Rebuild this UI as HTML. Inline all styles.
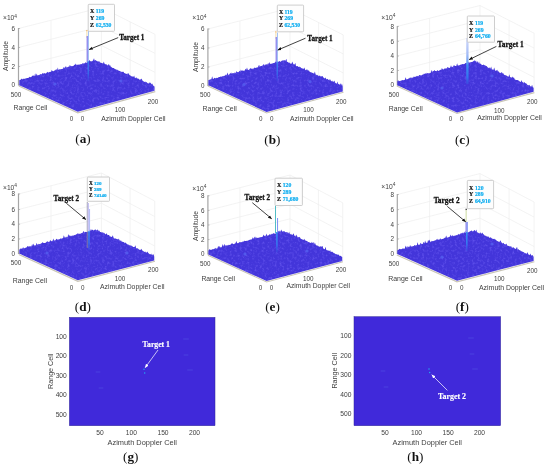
<!DOCTYPE html>
<html><head><meta charset="utf-8"><title>Figure</title>
<style>
html,body{margin:0;padding:0;background:#fff;}
body{width:550px;height:469px;overflow:hidden;}
svg{display:block;}
.t{font-family:"Liberation Sans",Arial,sans-serif;fill:#404040;}
.s{font-family:"Liberation Serif","Times New Roman",serif;}
.b{font-weight:bold;}
</style></head><body>
<svg width="550" height="469" viewBox="0 0 550 469">
<defs>
<marker id="ak" markerWidth="5" markerHeight="4" refX="3.6" refY="2" orient="auto" markerUnits="userSpaceOnUse"><path d="M0,0.4 L4,2 L0,3.6 Z" fill="#111"/></marker>
<marker id="aw" markerWidth="5" markerHeight="4" refX="3.6" refY="2" orient="auto" markerUnits="userSpaceOnUse"><path d="M0,0.4 L4,2 L0,3.6 Z" fill="#fff"/></marker>
<filter id="nz" x="0" y="0" width="100%" height="100%" color-interpolation-filters="sRGB"><feTurbulence type="fractalNoise" baseFrequency="0.4" numOctaves="2" seed="3" result="n"/><feColorMatrix in="n" type="matrix" values="0 0 0 0 0.42  0 0 0 0 0.36  0 0 0 0 0.95  1.7 0 0 0 -0.8" result="c"/><feComposite in="c" in2="SourceGraphic" operator="in" result="m"/><feMerge><feMergeNode in="SourceGraphic"/><feMergeNode in="m"/></feMerge></filter>
<linearGradient id="gc" x1="0" y1="0" x2="0" y2="1"><stop offset="0" stop-color="#cfd8fa"/><stop offset="0.35" stop-color="#a6bdf6"/><stop offset="0.52" stop-color="#6fa4f4"/><stop offset="0.6" stop-color="#3a8ef2"/><stop offset="0.85" stop-color="#3474ee"/><stop offset="1" stop-color="#3a55e4" stop-opacity="0.6"/></linearGradient>
<linearGradient id="gs" x1="0" y1="0" x2="0" y2="1"><stop offset="0" stop-color="#3590f4"/><stop offset="0.6" stop-color="#3478f0"/><stop offset="1" stop-color="#3c58e6" stop-opacity="0.4"/></linearGradient>
</defs>
<rect width="550" height="469" fill="#fff"/>

<path d="M18.5,28.5 L101.4,7.5 L155.0,34.3 M18.5,47.5 L101.4,26.5 L155.0,53.3 M18.5,66.5 L101.4,45.5 L155.0,72.3 M18.5,85.0 L101.4,64.0 L155.0,90.8 M101.4,64.0 V7.5 M155.0,90.8 V34.3 M51.0,76.8 V20.3 M130.2,78.4 V21.9" fill="none" stroke="#eeeeee" stroke-width="0.7"/>
<path d="M18.5,28.0 V85.5" stroke="#a6a6a6" stroke-width="1.2" fill="none"/>
<path d="M18.5,28.5 h1.6 M18.5,47.5 h1.6 M18.5,66.5 h1.6 M18.5,85.0 h1.6" stroke="#9a9a9a" stroke-width="0.6" fill="none"/>
<path d="M18.8,86.0 L77.8,112.8 L155.3,91.6" stroke="#c9c5b6" stroke-width="1.1" fill="none"/>
<polygon points="19.3,85.2 19.3,80.2 20.1,79.8 20.8,79.8 21.6,78.4 22.3,79.4 23.1,78.5 23.8,78.9 24.6,78.8 25.3,78.4 26.1,78.4 26.8,78.1 27.6,78.0 28.4,77.9 29.1,77.2 29.9,76.8 30.6,77.2 31.4,77.0 32.1,75.8 32.9,75.8 33.6,75.6 34.4,76.2 35.1,73.3 35.9,75.9 36.7,73.6 37.4,75.5 38.2,75.3 38.9,75.1 39.7,74.7 40.4,74.1 41.2,74.5 41.9,74.0 42.7,73.0 43.4,73.8 44.2,73.0 45.0,73.6 45.7,73.4 46.5,73.1 47.2,71.7 48.0,72.6 48.7,72.4 49.5,72.1 50.2,71.7 51.0,71.9 51.7,70.0 52.5,71.1 53.3,71.3 54.0,70.9 54.8,70.3 55.5,70.1 56.3,69.1 57.0,70.4 57.8,67.4 58.5,70.0 59.3,69.4 60.0,69.1 60.8,69.4 61.5,69.1 62.3,69.1 63.1,68.5 63.8,67.0 64.6,68.2 65.3,66.1 66.1,68.0 66.8,66.6 67.6,67.4 68.3,66.6 69.1,67.1 69.8,65.1 70.6,66.0 71.4,66.2 72.1,66.1 72.9,66.3 73.6,65.7 74.4,64.8 75.1,64.7 75.9,63.6 76.6,65.3 77.4,64.8 78.1,64.6 78.9,64.8 79.7,64.4 80.4,64.3 81.2,64.2 81.9,64.0 82.7,63.2 83.4,63.6 84.2,63.4 84.9,62.9 85.7,62.3 86.4,62.8 87.2,62.5 88.0,61.6 88.7,61.5 89.5,60.1 90.2,61.1 91.0,61.5 91.7,61.3 92.5,61.0 93.2,60.3 94.0,58.2 94.7,60.7 95.5,59.9 96.3,60.8 97.0,61.1 97.8,61.4 98.5,61.6 99.3,61.2 100.0,62.4 100.8,62.8 101.6,63.0 102.3,63.2 103.1,63.5 103.8,61.5 104.6,64.0 105.3,64.1 106.1,64.8 106.8,64.2 107.6,65.8 108.4,63.8 109.1,65.9 109.9,64.6 110.6,66.5 111.4,67.1 112.1,67.7 112.9,68.1 113.7,68.1 114.4,68.8 115.2,69.1 115.9,69.4 116.7,69.8 117.4,69.8 118.2,70.5 118.9,70.8 119.7,71.1 120.5,71.4 121.2,71.7 122.0,72.1 122.7,71.7 123.5,71.8 124.2,73.1 125.0,73.3 125.8,73.7 126.5,73.8 127.3,74.4 128.0,72.7 128.8,74.1 129.5,74.9 130.3,75.6 131.1,76.1 131.8,76.4 132.6,76.5 133.3,77.0 134.1,75.4 134.8,77.7 135.6,78.1 136.3,77.5 137.1,78.0 137.9,79.1 138.6,78.6 139.4,79.8 140.1,79.4 140.9,79.4 141.6,78.6 142.4,80.6 143.2,81.3 143.9,81.6 144.7,82.0 145.4,81.8 146.2,82.0 146.9,82.5 147.7,83.2 148.4,83.7 149.2,82.2 150.0,83.4 150.7,82.6 151.5,84.4 152.2,83.5 153.0,85.2 153.7,86.0 154.5,86.4 154.5,90.8 77.8,111.8" fill="#4335DA" filter="url(#nz)"/>
<circle cx="55" cy="84" r="1.6" fill="#5560f0" opacity="0.8"/>
<circle cx="121" cy="81" r="1.6" fill="#5560f0" opacity="0.8"/>
<rect x="86.45" y="30.0" width="0.9" height="8.0" fill="#f3d9a2" opacity="1"/>
<rect x="86.45" y="30.0" width="0.9" height="1.2" fill="#f0a850" opacity="1"/>
<rect x="86.55" y="36.0" width="1.5" height="26.0" fill="#968eee" opacity="1"/>
<rect x="88.00" y="31.0" width="0.8" height="31.0" fill="#8cb4f2" opacity="1"/>
<rect x="87.65" y="61.0" width="1.1" height="20.0" fill="url(#gs)" opacity="1"/>
<text x="15.1" y="30.7" font-size="6.3" text-anchor="end" class="t">6</text>
<text x="15.1" y="49.7" font-size="6.3" text-anchor="end" class="t">4</text>
<text x="15.1" y="68.7" font-size="6.3" text-anchor="end" class="t">2</text>
<text x="15.1" y="87.2" font-size="6.3" text-anchor="end" class="t">0</text>
<text x="3.0" y="20.3" font-size="6.7" class="t">×10<tspan dy="-2.8" font-size="4.8">4</tspan></text>
<text transform="translate(8.3,56.0) rotate(-90)" font-size="6.8" text-anchor="middle" class="t">Amplitude</text>
<text x="16.0" y="96.7" font-size="6.3" text-anchor="middle" class="t">500</text>
<text x="71.5" y="120.7" font-size="6.3" text-anchor="middle" class="t">0</text>
<text x="82.6" y="120.7" font-size="6.3" text-anchor="middle" class="t">0</text>
<text x="120.0" y="112.2" font-size="6.3" text-anchor="middle" class="t">100</text>
<text x="153.0" y="103.5" font-size="6.3" text-anchor="middle" class="t">200</text>
<text x="30.4" y="110.3" font-size="6.8" text-anchor="middle" class="t" textLength="33.7" lengthAdjust="spacingAndGlyphs">Range Cell</text>
<text x="133.4" y="120.8" font-size="6.8" text-anchor="middle" class="t" textLength="64.2" lengthAdjust="spacingAndGlyphs">Azimuth Doppler Cell</text>
<text x="83.0" y="143.2" font-size="13.2" text-anchor="middle" class="s" fill="#111">(<tspan class="b">a</tspan>)</text>
<rect x="88.2" y="4.3" width="26.3" height="27.0" rx="0.8" fill="#fdfdfd" stroke="#c2c2c2" stroke-width="0.8"/>
<text x="90.0" y="13.3" font-size="5.9" class="s b" fill="#111" stroke="#111" stroke-width="0.22">X <tspan fill="#10aef0" stroke="#10aef0" font-size="5.7" x="95.8">119</tspan></text>
<text x="90.0" y="19.8" font-size="5.9" class="s b" fill="#111" stroke="#111" stroke-width="0.22">Y <tspan fill="#10aef0" stroke="#10aef0" font-size="5.7" x="95.8">269</tspan></text>
<text x="90.0" y="26.5" font-size="5.9" class="s b" fill="#111" stroke="#111" stroke-width="0.22">Z <tspan fill="#10aef0" stroke="#10aef0" font-size="5.7" x="95.8">62,530</tspan></text>
<line x1="118.2" y1="37.6" x2="89.2" y2="49.5" stroke="#111" stroke-width="0.8" marker-end="url(#ak)"/>
<text x="131.8" y="40.1" font-size="7.2" text-anchor="middle" class="s b" fill="#111" stroke="#111" stroke-width="0.28" textLength="25.3" lengthAdjust="spacingAndGlyphs">Target 1</text>
<path d="M207.9,29.0 L290.0,8.2 L343.2,34.9 M207.9,48.0 L290.0,27.2 L343.2,53.9 M207.9,67.0 L290.0,46.2 L343.2,72.9 M207.9,85.5 L290.0,64.7 L343.2,91.4 M290.0,64.7 V8.2 M343.2,91.4 V34.9 M239.9,77.4 V20.9 M318.6,79.1 V22.6" fill="none" stroke="#eeeeee" stroke-width="0.7"/>
<path d="M207.9,28.5 V86.0" stroke="#a6a6a6" stroke-width="1.2" fill="none"/>
<path d="M207.9,29.0 h1.6 M207.9,48.0 h1.6 M207.9,67.0 h1.6 M207.9,85.5 h1.6" stroke="#9a9a9a" stroke-width="0.6" fill="none"/>
<path d="M207.9,86.0 L266.6,113.0 L343.5,92.2" stroke="#c9c5b6" stroke-width="1.1" fill="none"/>
<polygon points="208.4,85.2 208.4,80.2 209.2,79.8 209.9,79.8 210.7,79.3 211.4,79.3 212.2,76.3 212.9,78.9 213.7,78.8 214.4,77.8 215.2,78.3 216.0,78.2 216.7,77.8 217.5,77.9 218.2,77.5 219.0,77.1 219.7,77.1 220.5,76.5 221.3,76.9 222.0,76.0 222.8,76.5 223.5,76.0 224.3,75.7 225.0,75.8 225.8,74.6 226.5,75.5 227.3,72.6 228.1,74.4 228.8,74.9 229.6,73.9 230.3,72.8 231.1,74.0 231.8,72.5 232.6,73.4 233.3,73.1 234.1,73.5 234.9,72.3 235.6,73.2 236.4,71.0 237.1,72.3 237.9,71.9 238.6,72.2 239.4,70.8 240.2,71.8 240.9,69.4 241.7,71.1 242.4,70.6 243.2,70.6 243.9,71.0 244.7,70.4 245.4,68.8 246.2,70.0 247.0,67.5 247.7,69.7 248.5,69.9 249.2,69.7 250.0,68.4 250.7,68.3 251.5,68.7 252.2,68.7 253.0,68.7 253.8,68.5 254.5,67.6 255.3,68.1 256.0,67.8 256.8,67.5 257.5,67.5 258.3,66.4 259.1,64.8 259.8,66.9 260.6,66.0 261.3,66.0 262.1,65.8 262.8,65.5 263.6,63.9 264.3,65.7 265.1,64.0 265.9,65.3 266.6,64.0 267.4,64.8 268.1,62.7 268.9,64.6 269.6,62.0 270.4,64.1 271.1,64.0 271.9,63.4 272.7,63.5 273.4,63.1 274.2,63.0 274.9,62.6 275.7,61.5 276.4,62.3 277.2,62.4 278.0,62.0 278.7,61.5 279.5,60.9 280.2,61.7 281.0,61.4 281.7,60.7 282.5,60.6 283.2,60.7 284.0,60.1 284.8,60.5 285.5,60.8 286.3,58.7 287.0,61.7 287.8,62.1 288.5,62.7 289.3,62.4 290.0,63.3 290.8,63.7 291.5,63.8 292.3,61.4 293.0,63.6 293.8,64.6 294.5,64.4 295.3,63.1 296.0,66.0 296.8,66.3 297.5,66.1 298.3,66.8 299.1,67.2 299.8,66.6 300.6,67.6 301.3,68.1 302.1,68.6 302.8,68.6 303.6,69.0 304.3,67.4 305.1,69.8 305.8,70.2 306.6,69.6 307.3,69.6 308.1,71.1 308.8,70.1 309.6,71.7 310.3,71.9 311.1,72.6 311.8,72.6 312.6,73.1 313.4,73.3 314.1,73.7 314.9,71.6 315.6,74.5 316.4,74.9 317.1,74.7 317.9,75.4 318.6,75.9 319.4,75.8 320.1,75.7 320.9,76.8 321.6,76.3 322.4,75.9 323.1,77.1 323.9,78.0 324.6,78.5 325.4,77.6 326.1,78.8 326.9,79.4 327.6,78.8 328.4,79.7 329.2,80.4 329.9,79.1 330.7,80.5 331.4,81.0 332.2,81.8 332.9,80.5 333.7,82.3 334.4,80.5 335.2,82.8 335.9,83.3 336.7,83.8 337.4,81.5 338.2,84.3 338.9,83.7 339.7,85.1 340.4,83.2 341.2,85.5 341.9,83.6 342.7,86.4 342.7,91.4 266.6,112.0" fill="#4335DA" filter="url(#nz)"/>
<circle cx="244" cy="84.5" r="1.6" fill="#5560f0" opacity="0.8"/>
<circle cx="310" cy="81.5" r="1.6" fill="#5560f0" opacity="0.8"/>
<rect x="275.45" y="31.3" width="0.9" height="7.7" fill="#f3d9a2" opacity="1"/>
<rect x="275.45" y="31.3" width="0.9" height="1.2" fill="#f0a850" opacity="1"/>
<rect x="275.55" y="37.0" width="1.5" height="25.0" fill="#968eee" opacity="1"/>
<rect x="277.00" y="32.5" width="0.8" height="29.5" fill="#8cb4f2" opacity="1"/>
<rect x="276.65" y="61.5" width="1.1" height="19.5" fill="url(#gs)" opacity="1"/>
<text x="204.5" y="31.2" font-size="6.3" text-anchor="end" class="t">6</text>
<text x="204.5" y="50.2" font-size="6.3" text-anchor="end" class="t">4</text>
<text x="204.5" y="69.2" font-size="6.3" text-anchor="end" class="t">2</text>
<text x="204.5" y="87.7" font-size="6.3" text-anchor="end" class="t">0</text>
<text x="192.3" y="20.3" font-size="6.7" class="t">×10<tspan dy="-2.8" font-size="4.8">4</tspan></text>
<text transform="translate(197.8,57.0) rotate(-90)" font-size="6.8" text-anchor="middle" class="t">Amplitude</text>
<text x="205.2" y="96.9" font-size="6.3" text-anchor="middle" class="t">500</text>
<text x="260.8" y="120.9" font-size="6.3" text-anchor="middle" class="t">0</text>
<text x="271.7" y="120.9" font-size="6.3" text-anchor="middle" class="t">0</text>
<text x="308.5" y="112.2" font-size="6.3" text-anchor="middle" class="t">100</text>
<text x="341.2" y="103.5" font-size="6.3" text-anchor="middle" class="t">200</text>
<text x="219.7" y="110.5" font-size="6.8" text-anchor="middle" class="t" textLength="34.2" lengthAdjust="spacingAndGlyphs">Range Cell</text>
<text x="321.8" y="120.8" font-size="6.8" text-anchor="middle" class="t" textLength="63.6" lengthAdjust="spacingAndGlyphs">Azimuth Doppler Cell</text>
<text x="272.4" y="143.6" font-size="13.2" text-anchor="middle" class="s" fill="#111">(<tspan class="b">b</tspan>)</text>
<rect x="277.3" y="5.1" width="26.3" height="26.7" rx="0.8" fill="#fdfdfd" stroke="#c2c2c2" stroke-width="0.8"/>
<text x="279.0" y="13.8" font-size="5.9" class="s b" fill="#111" stroke="#111" stroke-width="0.22">X <tspan fill="#10aef0" stroke="#10aef0" font-size="5.7" x="284.5">119</tspan></text>
<text x="279.0" y="20.4" font-size="5.9" class="s b" fill="#111" stroke="#111" stroke-width="0.22">Y <tspan fill="#10aef0" stroke="#10aef0" font-size="5.7" x="284.5">269</tspan></text>
<text x="279.0" y="26.9" font-size="5.9" class="s b" fill="#111" stroke="#111" stroke-width="0.22">Z <tspan fill="#10aef0" stroke="#10aef0" font-size="5.7" x="284.5">62,530</tspan></text>
<line x1="305.5" y1="38.2" x2="277.8" y2="50.0" stroke="#111" stroke-width="0.8" marker-end="url(#ak)"/>
<text x="320.0" y="40.7" font-size="7.2" text-anchor="middle" class="s b" fill="#111" stroke="#111" stroke-width="0.28" textLength="25.4" lengthAdjust="spacingAndGlyphs">Target 1</text>
<path d="M397.3,26.4 L480.0,5.5 L534.1,33.2 M397.3,41.3 L480.0,20.4 L534.1,48.1 M397.3,56.0 L480.0,35.1 L534.1,62.8 M397.3,70.5 L480.0,49.6 L534.1,77.3 M397.3,85.0 L480.0,64.1 L534.1,91.8 M480.0,64.1 V5.5 M534.1,91.8 V33.2 M429.6,76.8 V18.2 M509.1,79.0 V20.4" fill="none" stroke="#eeeeee" stroke-width="0.7"/>
<path d="M397.3,25.9 V85.5" stroke="#a6a6a6" stroke-width="1.2" fill="none"/>
<path d="M397.3,26.4 h1.6 M397.3,41.3 h1.6 M397.3,56.0 h1.6 M397.3,70.5 h1.6 M397.3,85.0 h1.6" stroke="#9a9a9a" stroke-width="0.6" fill="none"/>
<path d="M396.8,86.0 L457.0,113.4 L534.4,92.6" stroke="#c9c5b6" stroke-width="1.1" fill="none"/>
<polygon points="397.3,85.2 397.3,81.8 398.1,79.9 398.8,81.3 399.6,81.0 400.3,80.9 401.1,80.6 401.8,80.5 402.6,79.9 403.4,80.2 404.1,79.9 404.9,79.7 405.6,77.2 406.4,79.4 407.1,79.2 407.9,78.9 408.6,78.6 409.4,78.3 410.2,77.2 410.9,78.2 411.7,77.4 412.4,77.8 413.2,77.6 413.9,76.6 414.7,77.1 415.5,76.8 416.2,76.4 417.0,75.8 417.7,76.3 418.5,76.2 419.2,75.0 420.0,75.1 420.7,75.5 421.5,75.4 422.3,74.5 423.0,74.9 423.8,73.8 424.5,74.0 425.3,73.1 426.0,74.2 426.8,72.8 427.6,73.3 428.3,73.3 429.1,73.4 429.8,72.9 430.6,73.0 431.3,69.8 432.1,72.6 432.9,70.8 433.6,71.3 434.4,70.0 435.1,71.1 435.9,71.1 436.6,71.2 437.4,70.1 438.1,70.9 438.9,70.7 439.7,70.3 440.4,69.7 441.2,70.0 441.9,68.1 442.7,69.3 443.4,69.5 444.2,69.1 445.0,68.0 445.7,68.8 446.5,68.6 447.2,67.5 448.0,67.1 448.7,68.0 449.5,67.9 450.3,67.2 451.0,65.2 451.8,67.2 452.5,67.1 453.3,66.3 454.0,64.9 454.8,66.1 455.5,65.9 456.3,66.0 457.1,63.3 457.8,65.6 458.6,65.5 459.3,65.3 460.1,65.1 460.8,64.6 461.6,64.4 462.4,63.9 463.1,64.3 463.9,64.1 464.6,63.9 465.4,63.1 466.1,63.1 466.9,63.0 467.6,60.6 468.4,62.4 469.2,62.6 469.9,62.4 470.7,62.2 471.4,62.1 472.2,61.9 472.9,61.6 473.7,60.9 474.5,60.2 475.2,61.5 476.0,60.6 476.7,62.8 477.5,61.1 478.2,63.5 479.0,61.4 479.8,64.1 480.5,63.5 481.3,64.4 482.0,65.1 482.8,65.0 483.6,64.5 484.3,65.3 485.1,65.3 485.8,66.1 486.6,66.1 487.3,67.1 488.1,67.7 488.9,67.9 489.6,67.6 490.4,68.8 491.1,66.5 491.9,69.4 492.7,69.5 493.4,70.1 494.2,67.6 494.9,70.1 495.7,71.0 496.4,70.6 497.2,69.7 498.0,71.7 498.7,71.2 499.5,72.7 500.2,72.7 501.0,73.3 501.8,71.7 502.5,73.5 503.3,73.3 504.0,74.7 504.8,75.0 505.5,75.3 506.3,75.4 507.1,75.9 507.8,76.4 508.6,76.8 509.3,74.2 510.1,77.2 510.9,77.2 511.6,77.7 512.4,76.5 513.1,78.0 513.9,77.2 514.6,79.3 515.4,79.7 516.2,80.0 516.9,80.1 517.7,80.1 518.4,80.4 519.2,81.0 520.0,81.7 520.7,82.1 521.5,79.9 522.2,82.6 523.0,81.6 523.7,83.4 524.5,82.1 525.3,83.2 526.0,83.2 526.8,84.1 527.5,85.0 528.3,85.4 529.1,84.7 529.8,85.6 530.6,86.4 531.3,86.7 532.1,84.7 532.8,87.3 533.6,87.7 533.6,91.8 457.0,112.4" fill="#4335DA" filter="url(#nz)"/>
<circle cx="442" cy="88" r="1.6" fill="#5560f0" opacity="0.8"/>
<circle cx="492" cy="76" r="1.6" fill="#5560f0" opacity="0.8"/>
<rect x="466.25" y="38.0" width="2.3" height="46.0" fill="url(#gc)" opacity="1"/>
<text x="393.9" y="28.6" font-size="6.3" text-anchor="end" class="t">8</text>
<text x="393.9" y="43.5" font-size="6.3" text-anchor="end" class="t">6</text>
<text x="393.9" y="58.2" font-size="6.3" text-anchor="end" class="t">4</text>
<text x="393.9" y="72.7" font-size="6.3" text-anchor="end" class="t">2</text>
<text x="393.9" y="87.2" font-size="6.3" text-anchor="end" class="t">0</text>
<text x="381.3" y="20.0" font-size="6.7" class="t">×10<tspan dy="-2.8" font-size="4.8">4</tspan></text>
<text x="394.0" y="96.7" font-size="6.3" text-anchor="middle" class="t">500</text>
<text x="450.5" y="121.2" font-size="6.3" text-anchor="middle" class="t">0</text>
<text x="461.8" y="121.2" font-size="6.3" text-anchor="middle" class="t">0</text>
<text x="499.3" y="112.6" font-size="6.3" text-anchor="middle" class="t">100</text>
<text x="532.3" y="103.5" font-size="6.3" text-anchor="middle" class="t">200</text>
<text x="405.7" y="111.3" font-size="6.8" text-anchor="middle" class="t" textLength="34.0" lengthAdjust="spacingAndGlyphs">Range Cell</text>
<text x="509.5" y="120.1" font-size="6.8" text-anchor="middle" class="t" textLength="64.5" lengthAdjust="spacingAndGlyphs">Azimuth Doppler Cell</text>
<text x="462.3" y="143.6" font-size="13.2" text-anchor="middle" class="s" fill="#111">(<tspan class="b">c</tspan>)</text>
<rect x="467.3" y="16.0" width="27.2" height="26.2" rx="0.8" fill="#fdfdfd" stroke="#c2c2c2" stroke-width="0.8"/>
<text x="469.0" y="24.7" font-size="5.9" class="s b" fill="#111" stroke="#111" stroke-width="0.22">X <tspan fill="#10aef0" stroke="#10aef0" font-size="5.7" x="475.0">119</tspan></text>
<text x="469.0" y="31.5" font-size="5.9" class="s b" fill="#111" stroke="#111" stroke-width="0.22">Y <tspan fill="#10aef0" stroke="#10aef0" font-size="5.7" x="475.0">269</tspan></text>
<text x="469.0" y="38.4" font-size="5.9" class="s b" fill="#111" stroke="#111" stroke-width="0.22">Z <tspan fill="#10aef0" stroke="#10aef0" font-size="5.7" x="475.0">64,760</tspan></text>
<line x1="496.4" y1="46.4" x2="469.2" y2="59.6" stroke="#111" stroke-width="0.8" marker-end="url(#ak)"/>
<text x="510.6" y="47.0" font-size="7.2" text-anchor="middle" class="s b" fill="#111" stroke="#111" stroke-width="0.28" textLength="26.0" lengthAdjust="spacingAndGlyphs">Target 1</text>
<path d="M18.5,194.0 L101.4,173.0 L154.7,201.0 M18.5,209.5 L101.4,188.5 L154.7,216.5 M18.5,224.2 L101.4,203.2 L154.7,231.2 M18.5,239.0 L101.4,218.0 L154.7,246.0 M18.5,253.5 L101.4,232.5 L154.7,260.5 M101.4,232.5 V173.0 M154.7,260.5 V201.0 M51.0,245.3 V185.8 M130.1,247.6 V188.1" fill="none" stroke="#eeeeee" stroke-width="0.7"/>
<path d="M18.5,193.5 V254.0" stroke="#a6a6a6" stroke-width="1.2" fill="none"/>
<path d="M18.5,194.0 h1.6 M18.5,209.5 h1.6 M18.5,224.2 h1.6 M18.5,239.0 h1.6 M18.5,253.5 h1.6" stroke="#9a9a9a" stroke-width="0.6" fill="none"/>
<path d="M18.8,254.4 L77.8,281.3 L155.0,261.3" stroke="#c9c5b6" stroke-width="1.1" fill="none"/>
<polygon points="19.3,253.6 19.3,249.6 20.1,249.3 20.8,248.3 21.6,248.8 22.3,248.8 23.1,247.3 23.8,248.2 24.6,248.2 25.3,247.7 26.1,247.8 26.8,247.0 27.6,246.1 28.4,246.7 29.1,246.0 29.9,246.8 30.6,246.3 31.4,246.4 32.1,244.0 32.9,246.1 33.6,243.6 34.4,245.7 35.1,245.4 35.9,245.3 36.7,242.8 37.4,244.7 38.2,244.4 38.9,243.8 39.7,244.2 40.4,244.0 41.2,243.2 41.9,243.2 42.7,242.0 43.4,243.0 44.2,242.9 45.0,242.9 45.7,242.8 46.5,241.9 47.2,241.2 48.0,241.7 48.7,242.0 49.5,241.7 50.2,239.9 51.0,241.1 51.7,241.2 52.5,240.9 53.3,238.6 54.0,240.6 54.8,240.4 55.5,240.2 56.3,238.7 57.0,239.2 57.8,239.7 58.5,239.5 59.3,239.2 60.0,239.0 60.8,238.2 61.5,238.7 62.3,238.3 63.1,238.3 63.8,235.3 64.6,237.4 65.3,237.7 66.1,236.6 66.8,237.4 67.6,237.1 68.3,234.1 69.1,236.2 69.8,235.1 70.6,236.2 71.4,236.1 72.1,235.6 72.9,235.8 73.6,235.6 74.4,235.1 75.1,235.2 75.9,234.6 76.6,234.2 77.4,233.3 78.1,234.2 78.9,233.2 79.7,233.9 80.4,233.8 81.2,233.3 81.9,233.1 82.7,232.8 83.4,230.7 84.2,232.7 84.9,231.8 85.7,232.0 86.4,231.9 87.2,232.1 88.0,230.5 88.7,231.0 89.5,229.8 90.2,230.9 91.0,229.1 91.7,230.5 92.5,229.6 93.2,230.4 94.0,230.2 94.7,229.8 95.5,229.4 96.3,230.3 97.0,230.5 97.8,229.3 98.5,230.9 99.3,230.6 100.0,232.0 100.8,231.9 101.5,232.5 102.3,232.0 103.0,233.2 103.8,232.5 104.5,233.2 105.3,234.3 106.0,234.3 106.8,233.3 107.5,235.3 108.3,235.1 109.0,235.1 109.8,236.4 110.6,236.5 111.3,237.1 112.1,236.8 112.8,235.2 113.6,237.9 114.3,238.4 115.1,238.5 115.8,238.4 116.6,239.0 117.3,239.1 118.1,239.8 118.8,238.5 119.6,240.6 120.3,240.7 121.1,240.6 121.8,241.7 122.6,241.7 123.3,242.1 124.1,242.3 124.8,243.2 125.6,242.5 126.4,243.6 127.1,244.2 127.9,244.4 128.6,244.8 129.4,245.2 130.1,245.4 130.9,245.5 131.6,245.8 132.4,246.3 133.1,246.9 133.9,247.1 134.6,247.1 135.4,245.3 136.1,248.0 136.9,248.5 137.6,248.3 138.4,248.9 139.1,249.6 139.9,249.9 140.7,249.7 141.4,248.8 142.2,250.6 142.9,250.8 143.7,251.4 144.4,251.9 145.2,251.4 145.9,252.4 146.7,252.6 147.4,251.4 148.2,253.0 148.9,253.5 149.7,254.3 150.4,253.9 151.2,255.0 151.9,253.4 152.7,255.6 153.4,254.0 154.2,256.4 154.2,260.5 77.8,280.3" fill="#4335DA" filter="url(#nz)"/>
<circle cx="47" cy="253" r="1.6" fill="#5560f0" opacity="0.8"/>
<circle cx="127" cy="253" r="1.6" fill="#5560f0" opacity="0.8"/>
<rect x="86.80" y="201.8" width="0.8" height="46.2" fill="#8a8a9a" opacity="1"/>
<rect x="87.70" y="203.0" width="1.2" height="29.0" fill="#c3bdf4" opacity="1"/>
<rect x="89.15" y="209.0" width="0.9" height="23.0" fill="#a9b6f4" opacity="1"/>
<rect x="88.30" y="231.0" width="1.4" height="19.5" fill="url(#gs)" opacity="1"/>
<text x="15.1" y="196.2" font-size="6.3" text-anchor="end" class="t">8</text>
<text x="15.1" y="211.7" font-size="6.3" text-anchor="end" class="t">6</text>
<text x="15.1" y="226.4" font-size="6.3" text-anchor="end" class="t">4</text>
<text x="15.1" y="241.2" font-size="6.3" text-anchor="end" class="t">2</text>
<text x="15.1" y="255.7" font-size="6.3" text-anchor="end" class="t">0</text>
<text x="3.0" y="189.5" font-size="6.7" class="t">×10<tspan dy="-2.8" font-size="4.8">4</tspan></text>
<text x="16.0" y="265.0" font-size="6.3" text-anchor="middle" class="t">500</text>
<text x="71.5" y="289.6" font-size="6.3" text-anchor="middle" class="t">0</text>
<text x="82.7" y="289.6" font-size="6.3" text-anchor="middle" class="t">0</text>
<text x="120.0" y="280.8" font-size="6.3" text-anchor="middle" class="t">100</text>
<text x="153.2" y="271.7" font-size="6.3" text-anchor="middle" class="t">200</text>
<text x="29.9" y="283.1" font-size="6.8" text-anchor="middle" class="t" textLength="34.3" lengthAdjust="spacingAndGlyphs">Range Cell</text>
<text x="132.2" y="289.1" font-size="6.8" text-anchor="middle" class="t" textLength="64.5" lengthAdjust="spacingAndGlyphs">Azimuth Doppler Cell</text>
<text x="82.8" y="311.3" font-size="13.2" text-anchor="middle" class="s" fill="#111">(<tspan class="b">d</tspan>)</text>
<rect x="87.3" y="177.0" width="22.2" height="24.3" rx="0.8" fill="#fdfdfd" stroke="#c2c2c2" stroke-width="0.8"/>
<text x="89.0" y="185.4" font-size="5.2" class="s b" fill="#111" stroke="#111" stroke-width="0.22">X <tspan fill="#10aef0" stroke="#10aef0" font-size="5.0" x="94.0">120</tspan></text>
<text x="89.0" y="191.3" font-size="5.2" class="s b" fill="#111" stroke="#111" stroke-width="0.22">Y <tspan fill="#10aef0" stroke="#10aef0" font-size="5.0" x="94.0">289</tspan></text>
<text x="89.0" y="196.8" font-size="5.2" class="s b" fill="#111" stroke="#111" stroke-width="0.22">Z <tspan fill="#10aef0" stroke="#10aef0" font-size="5.0" x="94.0">74140</tspan></text>
<line x1="66.4" y1="203.3" x2="85.8" y2="219.5" stroke="#111" stroke-width="0.8" marker-end="url(#ak)"/>
<text x="66.3" y="200.7" font-size="7.2" text-anchor="middle" class="s b" fill="#111" stroke="#111" stroke-width="0.28" textLength="25.4" lengthAdjust="spacingAndGlyphs">Target 2</text>
<path d="M207.9,195.8 L290.0,175.0 L342.7,202.8 M207.9,210.4 L290.0,189.6 L342.7,217.4 M207.9,225.0 L290.0,204.2 L342.7,232.0 M207.9,239.6 L290.0,218.8 L342.7,246.6 M207.9,254.0 L290.0,233.2 L342.7,261.0 M290.0,233.2 V175.0 M342.7,261.0 V202.8 M239.9,245.9 V187.7 M318.4,248.2 V190.0" fill="none" stroke="#eeeeee" stroke-width="0.7"/>
<path d="M207.9,195.3 V254.5" stroke="#a6a6a6" stroke-width="1.2" fill="none"/>
<path d="M207.9,195.8 h1.6 M207.9,210.4 h1.6 M207.9,225.0 h1.6 M207.9,239.6 h1.6 M207.9,254.0 h1.6" stroke="#9a9a9a" stroke-width="0.6" fill="none"/>
<path d="M207.9,255.2 L266.6,282.0 L343.0,261.8" stroke="#c9c5b6" stroke-width="1.1" fill="none"/>
<polygon points="208.4,254.4 208.4,250.7 209.2,249.6 209.9,249.3 210.7,250.0 211.4,249.8 212.2,249.4 212.9,249.0 213.7,249.2 214.4,249.0 215.2,247.7 215.9,248.7 216.7,248.4 217.4,248.4 218.2,245.7 219.0,247.4 219.7,246.1 220.5,247.6 221.2,247.4 222.0,246.4 222.7,244.1 223.5,246.8 224.2,243.8 225.0,245.8 225.7,245.5 226.5,245.5 227.2,245.2 228.0,245.4 228.8,244.7 229.5,245.1 230.3,244.8 231.0,244.3 231.8,243.3 232.5,243.5 233.3,244.1 234.0,244.2 234.8,243.6 235.5,243.3 236.3,241.1 237.1,243.1 237.8,243.2 238.6,242.9 239.3,242.1 240.1,242.4 240.8,242.1 241.6,242.2 242.3,241.7 243.1,241.6 243.8,241.5 244.6,240.8 245.3,241.0 246.1,240.9 246.9,240.8 247.6,240.7 248.4,240.5 249.1,239.7 249.9,239.9 250.6,239.6 251.4,239.4 252.1,239.0 252.9,237.2 253.6,239.1 254.4,236.5 255.1,238.6 255.9,236.4 256.7,238.3 257.4,237.7 258.2,238.0 258.9,237.6 259.7,237.6 260.4,237.3 261.2,236.9 261.9,237.1 262.7,236.8 263.4,234.5 264.2,236.2 264.9,235.4 265.7,236.1 266.5,233.4 267.2,235.7 268.0,235.5 268.7,235.2 269.5,234.2 270.2,234.6 271.0,234.7 271.7,233.8 272.5,234.1 273.2,233.2 274.0,233.6 274.8,233.8 275.5,233.6 276.3,233.3 277.0,231.8 277.8,232.8 278.5,230.8 279.3,231.8 280.0,230.3 280.8,231.9 281.5,229.6 282.3,231.4 283.0,231.7 283.8,230.9 284.6,231.6 285.3,232.1 286.1,232.5 286.8,231.9 287.6,232.5 288.4,233.5 289.1,231.7 289.9,234.0 290.6,234.3 291.4,234.3 292.1,235.1 292.9,234.5 293.7,233.2 294.4,236.1 295.2,235.6 295.9,236.8 296.7,234.6 297.5,237.4 298.2,237.1 299.0,237.6 299.7,236.8 300.5,238.5 301.2,239.1 302.0,239.3 302.8,239.7 303.5,240.0 304.3,238.8 305.0,240.4 305.8,240.6 306.6,241.0 307.3,241.2 308.1,241.9 308.8,242.0 309.6,242.6 310.3,242.7 311.1,243.2 311.9,241.8 312.6,243.2 313.4,242.0 314.1,244.5 314.9,242.6 315.7,244.7 316.4,245.6 317.2,245.3 317.9,246.3 318.7,246.3 319.4,246.7 320.2,246.8 321.0,245.9 321.7,247.0 322.5,245.8 323.2,248.5 324.0,249.0 324.8,249.3 325.5,246.8 326.3,249.9 327.0,250.2 327.8,250.6 328.5,250.6 329.3,251.2 330.1,250.1 330.8,251.9 331.6,251.8 332.3,251.8 333.1,252.5 333.9,253.3 334.6,253.2 335.4,253.9 336.1,254.3 336.9,254.3 337.6,254.7 338.4,254.6 339.2,255.4 339.9,255.9 340.7,255.7 341.4,256.4 342.2,256.9 342.2,261.0 266.6,281.0" fill="#4335DA" filter="url(#nz)"/>
<circle cx="245" cy="254" r="1.6" fill="#5560f0" opacity="0.8"/>
<circle cx="307" cy="251" r="1.6" fill="#5560f0" opacity="0.8"/>
<rect x="275.05" y="205.5" width="0.9" height="27.5" fill="#3fb6c0" opacity="1"/>
<rect x="277.15" y="218.0" width="0.9" height="15.0" fill="#6f86f2" opacity="1"/>
<rect x="276.15" y="232.0" width="1.5" height="20.5" fill="url(#gs)" opacity="1"/>
<text x="204.5" y="198.0" font-size="6.3" text-anchor="end" class="t">8</text>
<text x="204.5" y="212.6" font-size="6.3" text-anchor="end" class="t">6</text>
<text x="204.5" y="227.2" font-size="6.3" text-anchor="end" class="t">4</text>
<text x="204.5" y="241.8" font-size="6.3" text-anchor="end" class="t">2</text>
<text x="204.5" y="256.2" font-size="6.3" text-anchor="end" class="t">0</text>
<text x="192.3" y="190.5" font-size="6.7" class="t">×10<tspan dy="-2.8" font-size="4.8">4</tspan></text>
<text transform="translate(197.8,226.0) rotate(-90)" font-size="6.8" text-anchor="middle" class="t">Amplitude</text>
<text x="205.2" y="265.7" font-size="6.3" text-anchor="middle" class="t">500</text>
<text x="260.5" y="289.6" font-size="6.3" text-anchor="middle" class="t">0</text>
<text x="271.4" y="289.6" font-size="6.3" text-anchor="middle" class="t">0</text>
<text x="308.3" y="280.8" font-size="6.3" text-anchor="middle" class="t">100</text>
<text x="341.1" y="272.2" font-size="6.3" text-anchor="middle" class="t">200</text>
<text x="218.2" y="280.6" font-size="6.8" text-anchor="middle" class="t" textLength="33.6" lengthAdjust="spacingAndGlyphs">Range Cell</text>
<text x="318.2" y="288.3" font-size="6.8" text-anchor="middle" class="t" textLength="63.6" lengthAdjust="spacingAndGlyphs">Azimuth Doppler Cell</text>
<text x="272.5" y="311.3" font-size="13.2" text-anchor="middle" class="s" fill="#111">(<tspan class="b">e</tspan>)</text>
<rect x="275.0" y="178.2" width="27.4" height="27.3" rx="0.8" fill="#fdfdfd" stroke="#c2c2c2" stroke-width="0.8"/>
<text x="277.0" y="187.0" font-size="5.9" class="s b" fill="#111" stroke="#111" stroke-width="0.22">X <tspan fill="#10aef0" stroke="#10aef0" font-size="5.7" x="282.7">120</tspan></text>
<text x="277.0" y="193.8" font-size="5.9" class="s b" fill="#111" stroke="#111" stroke-width="0.22">Y <tspan fill="#10aef0" stroke="#10aef0" font-size="5.7" x="282.7">289</tspan></text>
<text x="277.0" y="200.5" font-size="5.9" class="s b" fill="#111" stroke="#111" stroke-width="0.22">Z <tspan fill="#10aef0" stroke="#10aef0" font-size="5.7" x="282.7">71,680</tspan></text>
<line x1="252.3" y1="202.7" x2="271.6" y2="218.7" stroke="#111" stroke-width="0.8" marker-end="url(#ak)"/>
<text x="257.3" y="199.8" font-size="7.2" text-anchor="middle" class="s b" fill="#111" stroke="#111" stroke-width="0.28" textLength="25.4" lengthAdjust="spacingAndGlyphs">Target 2</text>
<path d="M397.3,194.5 L480.0,173.6 L534.1,202.0 M397.3,209.6 L480.0,188.7 L534.1,217.1 M397.3,224.5 L480.0,203.6 L534.1,232.0 M397.3,239.0 L480.0,218.1 L534.1,246.5 M397.3,253.5 L480.0,232.6 L534.1,261.0 M480.0,232.6 V173.6 M534.1,261.0 V202.0 M429.6,245.3 V186.3 M509.1,247.8 V188.8" fill="none" stroke="#eeeeee" stroke-width="0.7"/>
<path d="M397.3,194.0 V254.0" stroke="#a6a6a6" stroke-width="1.2" fill="none"/>
<path d="M397.3,194.5 h1.6 M397.3,209.6 h1.6 M397.3,224.5 h1.6 M397.3,239.0 h1.6 M397.3,253.5 h1.6" stroke="#9a9a9a" stroke-width="0.6" fill="none"/>
<path d="M396.8,254.9 L457.0,281.8 L534.4,261.8" stroke="#c9c5b6" stroke-width="1.1" fill="none"/>
<polygon points="397.3,254.1 397.3,250.4 398.1,250.0 398.8,249.6 399.6,248.7 400.3,249.2 401.1,249.0 401.8,249.3 402.6,248.6 403.3,248.6 404.1,248.7 404.8,248.4 405.6,245.4 406.3,248.1 407.1,245.8 407.8,247.7 408.6,246.5 409.3,247.3 410.1,245.1 410.8,246.5 411.6,246.6 412.3,246.5 413.1,246.1 413.8,246.0 414.6,245.1 415.3,245.4 416.1,245.6 416.9,244.9 417.6,242.3 418.4,244.9 419.1,244.7 419.9,244.4 420.6,242.7 421.4,244.1 422.1,243.8 422.9,243.9 423.6,241.8 424.4,243.5 425.1,240.6 425.9,242.8 426.6,242.8 427.4,242.7 428.1,239.8 428.9,241.6 429.6,239.5 430.4,242.0 431.1,241.7 431.9,240.8 432.6,241.2 433.4,241.0 434.1,240.8 434.9,240.5 435.6,240.2 436.4,239.8 437.2,238.8 437.9,240.0 438.7,239.4 439.4,239.7 440.2,238.3 440.9,239.2 441.7,239.2 442.4,239.0 443.2,238.7 443.9,238.5 444.7,237.8 445.4,237.8 446.2,235.5 446.9,237.8 447.7,237.6 448.4,237.3 449.2,236.9 449.9,236.5 450.7,234.5 451.4,236.4 452.2,235.2 452.9,235.8 453.7,236.1 454.4,235.8 455.2,235.4 456.0,235.6 456.7,235.1 457.5,235.2 458.2,233.8 459.0,234.7 459.7,234.3 460.5,233.5 461.2,233.6 462.0,233.1 462.7,232.8 463.5,233.4 464.2,231.6 465.0,233.2 465.7,230.8 466.5,232.8 467.2,232.7 468.0,232.2 468.7,232.3 469.5,231.8 470.2,230.9 471.0,231.2 471.7,230.2 472.5,231.4 473.2,231.2 474.0,230.4 474.8,229.9 475.5,231.4 476.3,229.5 477.0,232.2 477.8,232.6 478.5,233.0 479.3,233.3 480.0,233.6 480.8,232.3 481.5,234.0 482.3,232.4 483.1,234.1 483.8,234.6 484.6,235.6 485.3,235.8 486.1,235.9 486.8,236.5 487.6,236.7 488.3,236.5 489.1,237.6 489.8,237.9 490.6,237.3 491.4,237.9 492.1,238.7 492.9,238.7 493.6,238.9 494.4,238.7 495.1,239.7 495.9,239.6 496.6,240.8 497.4,241.0 498.1,241.4 498.9,241.8 499.7,241.8 500.4,240.3 501.2,241.9 501.9,243.1 502.7,243.4 503.4,242.7 504.2,244.1 504.9,244.3 505.7,244.6 506.4,243.4 507.2,245.4 507.9,245.7 508.7,246.0 509.5,246.3 510.2,246.7 511.0,246.1 511.7,247.4 512.5,247.7 513.2,247.3 514.0,247.8 514.7,248.5 515.5,248.9 516.2,248.6 517.0,246.8 517.8,250.0 518.5,249.1 519.3,250.2 520.0,250.1 520.8,251.2 521.5,251.3 522.3,251.5 523.0,252.3 523.8,251.9 524.5,253.0 525.3,253.3 526.1,253.3 526.8,253.9 527.6,252.0 528.3,254.5 529.1,254.6 529.8,255.2 530.6,253.4 531.3,255.8 532.1,255.1 532.8,255.6 533.6,256.9 533.6,261.0 457.0,280.8" fill="#4335DA" filter="url(#nz)"/>
<circle cx="442" cy="257" r="1.6" fill="#5560f0" opacity="0.8"/>
<circle cx="492" cy="244" r="1.6" fill="#5560f0" opacity="0.8"/>
<rect x="465.55" y="208.7" width="1.3" height="1.5" fill="#333" opacity="1"/>
<rect x="465.50" y="210.2" width="1.4" height="11.8" fill="#dbe6bc" opacity="1"/>
<rect x="465.40" y="222.0" width="2.2" height="11.0" fill="#9f9af0" opacity="1"/>
<rect x="466.85" y="222.0" width="0.7" height="11.0" fill="#6c8cf2" opacity="1"/>
<rect x="466.00" y="232.0" width="1.6" height="19.0" fill="url(#gs)" opacity="1"/>
<text x="393.9" y="196.7" font-size="6.3" text-anchor="end" class="t">8</text>
<text x="393.9" y="211.8" font-size="6.3" text-anchor="end" class="t">6</text>
<text x="393.9" y="226.7" font-size="6.3" text-anchor="end" class="t">4</text>
<text x="393.9" y="241.2" font-size="6.3" text-anchor="end" class="t">2</text>
<text x="393.9" y="255.7" font-size="6.3" text-anchor="end" class="t">0</text>
<text x="381.3" y="189.0" font-size="6.7" class="t">×10<tspan dy="-2.8" font-size="4.8">4</tspan></text>
<text x="394.0" y="265.7" font-size="6.3" text-anchor="middle" class="t">500</text>
<text x="450.5" y="289.9" font-size="6.3" text-anchor="middle" class="t">0</text>
<text x="461.8" y="289.9" font-size="6.3" text-anchor="middle" class="t">0</text>
<text x="499.3" y="281.4" font-size="6.3" text-anchor="middle" class="t">100</text>
<text x="532.3" y="272.7" font-size="6.3" text-anchor="middle" class="t">200</text>
<text x="405.4" y="280.9" font-size="6.8" text-anchor="middle" class="t" textLength="34.5" lengthAdjust="spacingAndGlyphs">Range Cell</text>
<text x="511.5" y="290.0" font-size="6.8" text-anchor="middle" class="t" textLength="65.0" lengthAdjust="spacingAndGlyphs">Azimuth Doppler Cell</text>
<text x="462.3" y="311.3" font-size="13.2" text-anchor="middle" class="s" fill="#111">(<tspan class="b">f</tspan>)</text>
<rect x="467.3" y="180.4" width="26.3" height="28.3" rx="0.8" fill="#fdfdfd" stroke="#c2c2c2" stroke-width="0.8"/>
<text x="469.0" y="189.6" font-size="5.9" class="s b" fill="#111" stroke="#111" stroke-width="0.22">X <tspan fill="#10aef0" stroke="#10aef0" font-size="5.7" x="475.0">120</tspan></text>
<text x="469.0" y="196.2" font-size="5.9" class="s b" fill="#111" stroke="#111" stroke-width="0.22">Y <tspan fill="#10aef0" stroke="#10aef0" font-size="5.7" x="475.0">289</tspan></text>
<text x="469.0" y="203.0" font-size="5.9" class="s b" fill="#111" stroke="#111" stroke-width="0.22">Z <tspan fill="#10aef0" stroke="#10aef0" font-size="5.7" x="475.0">64,910</tspan></text>
<line x1="447.3" y1="206.4" x2="465.7" y2="221.8" stroke="#111" stroke-width="0.8" marker-end="url(#ak)"/>
<text x="446.6" y="203.0" font-size="7.2" text-anchor="middle" class="s b" fill="#111" stroke="#111" stroke-width="0.28" textLength="25.9" lengthAdjust="spacingAndGlyphs">Target 2</text>
<rect x="69.4" y="317.4" width="145.6" height="108.3" fill="#4029DA" stroke="#2e2596" stroke-width="0.5"/>
<rect x="95.5" y="371.2" width="5" height="1.6" rx="0.8" fill="#4c42e0" opacity="0.7"/>
<rect x="98.5" y="387.2" width="5" height="1.6" rx="0.8" fill="#4c42e0" opacity="0.7"/>
<rect x="183.0" y="338.2" width="6" height="1.6" rx="0.8" fill="#4c42e0" opacity="0.7"/>
<rect x="183.5" y="354.2" width="5" height="1.6" rx="0.8" fill="#4c42e0" opacity="0.7"/>
<rect x="187.0" y="369.2" width="6" height="1.6" rx="0.8" fill="#4c42e0" opacity="0.7"/>
<circle cx="144.0" cy="369.2" r="0.75" fill="#22a8f0"/>
<circle cx="144.7" cy="373.0" r="0.75" fill="#22a8f0"/>
<text x="66.8" y="339.0" font-size="6.7" text-anchor="end" class="t">100</text>
<text x="66.8" y="358.4" font-size="6.7" text-anchor="end" class="t">200</text>
<text x="66.8" y="377.8" font-size="6.7" text-anchor="end" class="t">300</text>
<text x="66.8" y="397.4" font-size="6.7" text-anchor="end" class="t">400</text>
<text x="66.8" y="416.8" font-size="6.7" text-anchor="end" class="t">500</text>
<text x="100.1" y="435.4" font-size="6.7" text-anchor="middle" class="t">50</text>
<text x="131.3" y="435.4" font-size="6.7" text-anchor="middle" class="t">100</text>
<text x="163.0" y="435.4" font-size="6.7" text-anchor="middle" class="t">150</text>
<text x="194.5" y="435.4" font-size="6.7" text-anchor="middle" class="t">200</text>
<text transform="translate(52.5,371.3) rotate(-90)" font-size="7.4" text-anchor="middle" class="t" textLength="35.4" lengthAdjust="spacingAndGlyphs">Range Cell</text>
<text x="142.3" y="444.7" font-size="7.4" text-anchor="middle" class="t" textLength="69.4" lengthAdjust="spacingAndGlyphs">Azimuth Doppler Cell</text>
<text x="130.7" y="460.8" font-size="13.2" text-anchor="middle" class="s" fill="#111">(<tspan class="b">g</tspan>)</text>
<line x1="158.0" y1="350.0" x2="145.2" y2="367.6" stroke="#fff" stroke-width="0.7" marker-end="url(#aw)"/>
<text x="156.3" y="346.5" font-size="7.6" text-anchor="middle" class="s b" fill="#fff" stroke="#fff" stroke-width="0.15" textLength="27.4" lengthAdjust="spacingAndGlyphs">Target 1</text>
<rect x="354.0" y="316.7" width="146.6" height="109.0" fill="#4029DA" stroke="#2e2596" stroke-width="0.5"/>
<rect x="380.5" y="370.2" width="5" height="1.6" rx="0.8" fill="#4c42e0" opacity="0.7"/>
<rect x="383.5" y="386.2" width="5" height="1.6" rx="0.8" fill="#4c42e0" opacity="0.7"/>
<rect x="468.0" y="337.2" width="6" height="1.6" rx="0.8" fill="#4c42e0" opacity="0.7"/>
<rect x="469.5" y="353.2" width="5" height="1.6" rx="0.8" fill="#4c42e0" opacity="0.7"/>
<rect x="472.0" y="368.2" width="6" height="1.6" rx="0.8" fill="#4c42e0" opacity="0.7"/>
<circle cx="429.0" cy="369.0" r="0.75" fill="#22a8f0"/>
<circle cx="429.7" cy="372.6" r="0.75" fill="#22a8f0"/>
<text x="351.4" y="338.4" font-size="6.7" text-anchor="end" class="t">100</text>
<text x="351.4" y="358.0" font-size="6.7" text-anchor="end" class="t">200</text>
<text x="351.4" y="377.4" font-size="6.7" text-anchor="end" class="t">300</text>
<text x="351.4" y="397.0" font-size="6.7" text-anchor="end" class="t">400</text>
<text x="351.4" y="416.2" font-size="6.7" text-anchor="end" class="t">500</text>
<text x="385.1" y="435.1" font-size="6.7" text-anchor="middle" class="t">50</text>
<text x="416.5" y="435.1" font-size="6.7" text-anchor="middle" class="t">100</text>
<text x="448.2" y="435.1" font-size="6.7" text-anchor="middle" class="t">150</text>
<text x="479.5" y="435.1" font-size="6.7" text-anchor="middle" class="t">200</text>
<text transform="translate(337.1,370.8) rotate(-90)" font-size="7.4" text-anchor="middle" class="t" textLength="35.6" lengthAdjust="spacingAndGlyphs">Range Cell</text>
<text x="427.3" y="444.7" font-size="7.4" text-anchor="middle" class="t" textLength="69.4" lengthAdjust="spacingAndGlyphs">Azimuth Doppler Cell</text>
<text x="415.3" y="460.6" font-size="13.2" text-anchor="middle" class="s" fill="#111">(<tspan class="b">h</tspan>)</text>
<line x1="447.4" y1="390.4" x2="431.8" y2="374.8" stroke="#fff" stroke-width="0.7" marker-end="url(#aw)"/>
<text x="452.0" y="398.5" font-size="7.6" text-anchor="middle" class="s b" fill="#fff" stroke="#fff" stroke-width="0.15" textLength="28.0" lengthAdjust="spacingAndGlyphs">Target 2</text>
</svg></body></html>
